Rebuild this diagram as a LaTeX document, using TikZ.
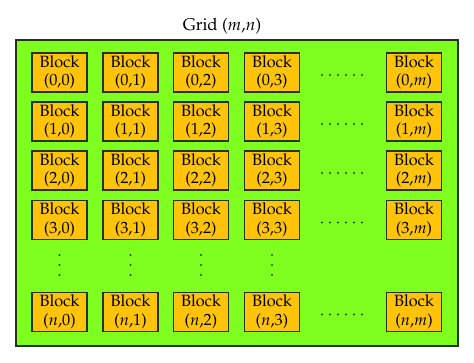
\documentclass[tikz,border=0pt]{standalone}
\usepackage[T1]{fontenc}
\usepackage{mathpazo}
\definecolor{gridgreen}{HTML}{7FFF1F}
\definecolor{blockgold}{HTML}{FFC40A}
\definecolor{edgedark}{HTML}{243414}
\definecolor{dotgreen}{HTML}{1E4A0A}
\begin{document}
\begin{tikzpicture}[x=1pt,y=-1pt,
  gridbox/.style={draw=edgedark,fill=gridgreen,line width=1.3pt},
  blockbox/.style={draw=edgedark,fill=blockgold,line width=1.2pt,minimum width=55pt,minimum height=39pt,inner sep=0pt,align=center,font=\fontsize{16.3}{18.5}\selectfont},
  dotmark/.style={fill=dotgreen}]
\useasboundingbox (0,0) rectangle (474,363);
\draw[gridbox] (16,40) rectangle (458,346);
\node[font=\fontsize{17}{19}\selectfont] (title) at (222,26) {Grid ($m$,$n$)};
\foreach \r/\y/\rl in {0/72.5/0,1/121.5/1,2/170.5/2,3/220/3,n/312/$n$}{
  \foreach \c/\x/\cl in {0/59.5/0,1/130.5/1,2/201/2,3/272/3,m/414/$m$}{
    \node[blockbox] (b\r\c) at (\x,\y) {Block\\(\rl,\cl)};
  }
  \foreach \k in {0,...,5}{
    \fill[dotmark] (322+8*\k,\y+2.5) circle (1.2pt);
  }
}
\foreach \x in {59.5,130.5,201,272}{
  \foreach \k in {0,1,2}{
    \fill[dotmark] (\x,255+10*\k) circle (1.2pt);
  }
}
\end{tikzpicture}
\end{document}
